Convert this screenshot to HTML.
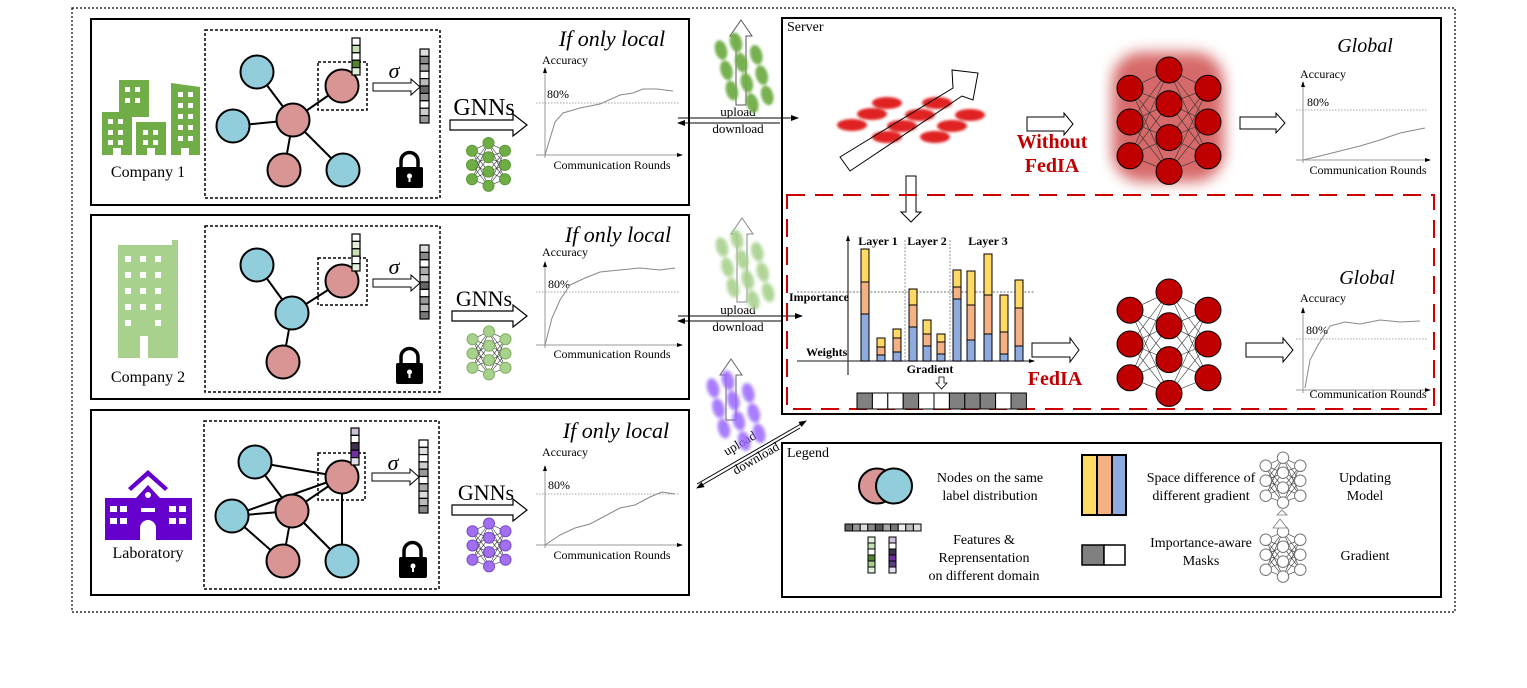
<!DOCTYPE html>
<html><head><meta charset="utf-8"><style>
html,body{margin:0;padding:0;background:#fff;}
svg{display:block;font-family:"Liberation Serif",serif;}
</style></head><body>
<svg width="1527" height="688" viewBox="0 0 1527 688" xmlns="http://www.w3.org/2000/svg">
<defs>
<g id="nn">
<path d="M5 12L20 5M5 12L20 18M5 12L20 31M5 12L20 44M5 25L20 5M5 25L20 18M5 25L20 31M5 25L20 44M5 38L20 5M5 38L20 18M5 38L20 31M5 38L20 44M35 12L20 5M35 12L20 18M35 12L20 31M35 12L20 44M35 25L20 5M35 25L20 18M35 25L20 31M35 25L20 44M35 38L20 5M35 38L20 18M35 38L20 31M35 38L20 44" stroke="#333" stroke-width="0.6" fill="none" vector-effect="non-scaling-stroke"/>
<circle cx="5" cy="12" r="5" vector-effect="non-scaling-stroke"/><circle cx="5" cy="25" r="5" vector-effect="non-scaling-stroke"/><circle cx="5" cy="38" r="5" vector-effect="non-scaling-stroke"/>
<circle cx="20" cy="5" r="5" vector-effect="non-scaling-stroke"/><circle cx="20" cy="18" r="5" vector-effect="non-scaling-stroke"/><circle cx="20" cy="31" r="5" vector-effect="non-scaling-stroke"/><circle cx="20" cy="44" r="5" vector-effect="non-scaling-stroke"/>
<circle cx="35" cy="12" r="5" vector-effect="non-scaling-stroke"/><circle cx="35" cy="25" r="5" vector-effect="non-scaling-stroke"/><circle cx="35" cy="38" r="5" vector-effect="non-scaling-stroke"/>
</g>
<g id="grad">
<g transform="rotate(-15)">
<ellipse cx="0" cy="0" rx="6" ry="10"/><ellipse cx="0" cy="21" rx="6" ry="10"/><ellipse cx="0" cy="42" rx="6" ry="10"/>
</g>
<g transform="translate(17,0) rotate(-15)">
<ellipse cx="0" cy="-8" rx="6" ry="10"/><ellipse cx="0" cy="13" rx="6" ry="10"/><ellipse cx="0" cy="34" rx="6" ry="10"/><ellipse cx="0" cy="55" rx="6" ry="10"/>
</g>
<g transform="translate(34,0) rotate(-15)">
<ellipse cx="0" cy="5" rx="6" ry="10"/><ellipse cx="0" cy="26" rx="6" ry="10"/><ellipse cx="0" cy="47" rx="6" ry="10"/>
</g>
</g>
<filter id="blur1"><feGaussianBlur stdDeviation="1.2"/></filter>
<filter id="blur8"><feGaussianBlur stdDeviation="7"/></filter>
<filter id="blur2"><feGaussianBlur stdDeviation="1.6"/></filter>
<marker id="ah" markerWidth="8" markerHeight="8" refX="7" refY="4" orient="auto" markerUnits="userSpaceOnUse"><path d="M0 1L8 4L0 7z" fill="#000"/></marker>
<marker id="ahs" markerWidth="6" markerHeight="6" refX="5" refY="3" orient="auto" markerUnits="userSpaceOnUse"><path d="M0 1L6 3L0 5z" fill="#000"/></marker>
</defs>

<rect x="72" y="8" width="1383" height="604" fill="none" stroke="#000" stroke-width="1.2" stroke-dasharray="2,2"/>

<!-- Company 1 -->
<rect x="91" y="19" width="598" height="186" fill="none" stroke="#000" stroke-width="2"/>
<rect x="205" y="30" width="235" height="168" fill="none" stroke="#000" stroke-width="1.5" stroke-dasharray="3,2"/>
<g fill="#70ad47">
<rect x="119" y="80" width="30" height="37"/>
<rect x="102" y="112" width="30" height="43"/>
<rect x="136" y="122" width="30" height="33"/>
<path d="M171 83L200 87L200 155L171 155z"/>
</g>
<g fill="#fff">
<rect x="125" y="87" width="5" height="5"/><rect x="135" y="87" width="5" height="5"/><rect x="125" y="98" width="5" height="5"/><rect x="135" y="98" width="5" height="5"/>
<rect x="108" y="119" width="5" height="5"/><rect x="118" y="119" width="5" height="5"/><rect x="108" y="130" width="5" height="5"/><rect x="118" y="130" width="5" height="5"/><rect x="108" y="140" width="5" height="5"/><rect x="118" y="140" width="5" height="5"/>
<rect x="143" y="130" width="5" height="5"/><rect x="153" y="130" width="5" height="5"/><rect x="143" y="140" width="5" height="5"/><rect x="153" y="140" width="5" height="5"/>
<rect x="178" y="92" width="5" height="5"/><rect x="188" y="92" width="5" height="5"/><rect x="178" y="103" width="5" height="5"/><rect x="188" y="103" width="5" height="5"/><rect x="178" y="114" width="5" height="5"/><rect x="188" y="114" width="5" height="5"/><rect x="178" y="125" width="5" height="5"/><rect x="188" y="125" width="5" height="5"/><rect x="178" y="136" width="5" height="5"/><rect x="188" y="136" width="5" height="5"/>
<rect x="113" y="148" width="8" height="7"/><rect x="147" y="148" width="8" height="7"/><rect x="181" y="148" width="8" height="7"/>
</g>
<text x="148" y="177" font-size="16" text-anchor="middle">Company 1</text>
<g stroke="#000" stroke-width="2">
<line x1="293" y1="120" x2="257" y2="72"/><line x1="293" y1="120" x2="233" y2="126"/><line x1="293" y1="120" x2="342" y2="86"/><line x1="293" y1="120" x2="284" y2="170"/><line x1="293" y1="120" x2="343" y2="170"/>
</g>
<g stroke="#000" stroke-width="2">
<circle cx="257" cy="72" r="16.5" fill="#92cddc"/><circle cx="233" cy="126" r="16.5" fill="#92cddc"/><circle cx="343" cy="170" r="16.5" fill="#92cddc"/>
<circle cx="293" cy="120" r="16.5" fill="#d99594"/><circle cx="342" cy="86" r="16.5" fill="#d99594"/><circle cx="284" cy="170" r="16.5" fill="#d99594"/>
</g>
<rect x="318" y="62" width="49" height="48" fill="none" stroke="#000" stroke-width="1.5" stroke-dasharray="3,2"/>
<g stroke="#000" stroke-width="1.2"><rect x="352" y="38" width="8" height="7.4" fill="#fff"/><rect x="352" y="45.4" width="8" height="7.4" fill="#c5e0b4"/><rect x="352" y="52.8" width="8" height="7.4" fill="#fff"/><rect x="352" y="60.2" width="8" height="7.4" fill="#548235"/><rect x="352" y="67.6" width="8" height="7.4" fill="#e2f0d9"/></g>
<text x="394" y="78" font-size="22" font-style="italic" text-anchor="middle">σ</text>
<path d="M373 83H411V79L420 87L411 95V91H373z" fill="#fff" stroke="#000" stroke-width="1"/>
<g stroke="#000" stroke-width="1.2"><rect x="420" y="49" width="9" height="7.4" fill="#ddd"/><rect x="420" y="56.4" width="9" height="7.4" fill="#888"/><rect x="420" y="63.8" width="9" height="7.4" fill="#aaa"/><rect x="420" y="71.2" width="9" height="7.4" fill="#fff"/><rect x="420" y="78.6" width="9" height="7.4" fill="#bbb"/><rect x="420" y="86" width="9" height="7.4" fill="#666"/><rect x="420" y="93.4" width="9" height="7.4" fill="#999"/><rect x="420" y="100.8" width="9" height="7.4" fill="#fff"/><rect x="420" y="108.2" width="9" height="7.4" fill="#ccc"/><rect x="420" y="115.6" width="9" height="7.4" fill="#999"/></g>
<g><path d="M401 168V161A8.5 8.5 0 0 1 418 161V168" fill="none" stroke="#000" stroke-width="3.5"/><rect x="396" y="167" width="27" height="21" rx="2" fill="#000"/><circle cx="409.5" cy="176" r="2.5" fill="#fff"/><rect x="408.5" y="176" width="2" height="6" fill="#fff"/></g>
<text x="484" y="115" font-size="24" text-anchor="middle">GNNs</text>
<path d="M450 120H513V114L527 125L513 136V130H450z" fill="#fff" stroke="#000" stroke-width="1.2"/>
<use href="#nn" transform="translate(466.5,137.5) scale(1.1)" fill="#70ad47" stroke="#5a9a35"/>
<text x="612" y="46" font-size="22" font-style="italic" text-anchor="middle">If only local</text>
<line x1="545" y1="158" x2="545" y2="68" stroke="#999" stroke-width="1" marker-end="url(#ahs)"/>
<line x1="536" y1="155" x2="682" y2="155" stroke="#999" stroke-width="1" marker-end="url(#ahs)"/>
<text x="565" y="64" font-size="12" text-anchor="middle">Accuracy</text>
<text x="547" y="98" font-size="12">80%</text>
<line x1="536" y1="103" x2="680" y2="103" stroke="#888" stroke-width="0.8" stroke-dasharray="1.5,1.5"/>
<text x="612" y="169" font-size="12" text-anchor="middle">Communication Rounds</text>
<polyline points="545,155 555,122 563,113 580,108 600,104 620,95 633,93 643,89 657,89 673,91" fill="none" stroke="#888" stroke-width="1"/>

<line x1="678" y1="118" x2="798" y2="118" stroke="#000" stroke-width="1" marker-end="url(#ah)"/>
<line x1="780" y1="123" x2="678" y2="123" stroke="#000" stroke-width="1" marker-end="url(#ah)"/>
<text x="738" y="116" font-size="13" text-anchor="middle">upload</text>
<text x="738" y="133" font-size="13" text-anchor="middle">download</text>
<path d="M736 105V36H730L741 20L752 36H746V105z" fill="#fff" stroke="#555" stroke-width="1"/>
<use href="#grad" transform="translate(721,50)" fill="#70ad47" filter="url(#blur1)" opacity="0.95"/>

<!-- Company 2 -->
<rect x="91" y="215" width="598" height="184" fill="none" stroke="#000" stroke-width="2"/>
<rect x="205" y="226" width="235" height="166" fill="none" stroke="#000" stroke-width="1.5" stroke-dasharray="3,2"/>
<path d="M118 245H172V240H178V358H118z" fill="#a9d18e"/>
<g fill="#fff">
<rect x="125" y="256" width="6" height="6"/><rect x="140" y="256" width="6" height="6"/><rect x="155" y="256" width="6" height="6"/>
<rect x="125" y="272" width="6" height="6"/><rect x="140" y="272" width="6" height="6"/><rect x="155" y="272" width="6" height="6"/>
<rect x="125" y="288" width="6" height="6"/><rect x="140" y="288" width="6" height="6"/><rect x="155" y="288" width="6" height="6"/>
<rect x="125" y="304" width="6" height="6"/><rect x="140" y="304" width="6" height="6"/><rect x="155" y="304" width="6" height="6"/>
<rect x="125" y="320" width="6" height="6"/><rect x="155" y="320" width="6" height="6"/>
<rect x="140" y="336" width="8" height="22"/>
</g>
<text x="148" y="382" font-size="16" text-anchor="middle">Company 2</text>
<g stroke="#000" stroke-width="2"><line x1="292" y1="313" x2="257" y2="265"/><line x1="292" y1="313" x2="342" y2="281"/><line x1="292" y1="313" x2="283" y2="362"/></g>
<g stroke="#000" stroke-width="2">
<circle cx="257" cy="265" r="16.5" fill="#92cddc"/><circle cx="292" cy="313" r="16.5" fill="#92cddc"/>
<circle cx="342" cy="281" r="16.5" fill="#d99594"/><circle cx="283" cy="362" r="16.5" fill="#d99594"/>
</g>
<rect x="318" y="258" width="49" height="47" fill="none" stroke="#000" stroke-width="1.5" stroke-dasharray="3,2"/>
<g stroke="#000" stroke-width="1.2"><rect x="352" y="234" width="8" height="7.4" fill="#fff"/><rect x="352" y="241.4" width="8" height="7.4" fill="#e2f0d9"/><rect x="352" y="248.8" width="8" height="7.4" fill="#c5e0b4"/><rect x="352" y="256.2" width="8" height="7.4" fill="#fff"/><rect x="352" y="263.6" width="8" height="7.4" fill="#e2f0d9"/></g>
<text x="394" y="274" font-size="22" font-style="italic" text-anchor="middle">σ</text>
<path d="M373 279H411V275L420 283L411 291V287H373z" fill="#fff" stroke="#000" stroke-width="1"/>
<g stroke="#000" stroke-width="1.2"><rect x="420" y="245" width="9" height="7.4" fill="#ddd"/><rect x="420" y="252.4" width="9" height="7.4" fill="#888"/><rect x="420" y="259.8" width="9" height="7.4" fill="#fff"/><rect x="420" y="267.2" width="9" height="7.4" fill="#aaa"/><rect x="420" y="274.6" width="9" height="7.4" fill="#ccc"/><rect x="420" y="282" width="9" height="7.4" fill="#666"/><rect x="420" y="289.4" width="9" height="7.4" fill="#fff"/><rect x="420" y="296.8" width="9" height="7.4" fill="#999"/><rect x="420" y="304.2" width="9" height="7.4" fill="#bbb"/><rect x="420" y="311.6" width="9" height="7.4" fill="#777"/></g>
<g><path d="M401 364V357A8.5 8.5 0 0 1 418 357V364" fill="none" stroke="#000" stroke-width="3.5"/><rect x="396" y="363" width="27" height="21" rx="2" fill="#000"/><circle cx="409.5" cy="372" r="2.5" fill="#fff"/><rect x="408.5" y="372" width="2" height="6" fill="#fff"/></g>
<text x="484" y="306" font-size="22" text-anchor="middle">GNNs</text>
<path d="M452 311H513V305L527 316L513 327V321H452z" fill="#fff" stroke="#000" stroke-width="1.2"/>
<use href="#nn" transform="translate(467,326) scale(1.1)" fill="#a9d18e" stroke="#7faf60"/>
<text x="618" y="242" font-size="22" font-style="italic" text-anchor="middle">If only local</text>
<line x1="545" y1="348" x2="545" y2="262" stroke="#999" stroke-width="1" marker-end="url(#ahs)"/>
<line x1="536" y1="345" x2="682" y2="345" stroke="#999" stroke-width="1" marker-end="url(#ahs)"/>
<text x="565" y="256" font-size="12" text-anchor="middle">Accuracy</text>
<text x="548" y="288" font-size="12">80%</text>
<line x1="536" y1="292" x2="680" y2="292" stroke="#888" stroke-width="0.8" stroke-dasharray="1.5,1.5"/>
<text x="612" y="358" font-size="12" text-anchor="middle">Communication Rounds</text>
<polyline points="545,345 552,318 560,300 570,285 585,278 600,272 620,270 640,268 660,270 675,268" fill="none" stroke="#888" stroke-width="1"/>
<line x1="678" y1="316" x2="802" y2="316" stroke="#000" stroke-width="1" marker-end="url(#ah)"/>
<line x1="782" y1="321" x2="678" y2="321" stroke="#000" stroke-width="1" marker-end="url(#ah)"/>
<text x="738" y="314" font-size="13" text-anchor="middle">upload</text>
<text x="738" y="331" font-size="13" text-anchor="middle">download</text>
<path d="M737 302V234H731L742 218L753 234H747V302z" fill="#fff" stroke="#888" stroke-width="1"/>
<use href="#grad" transform="translate(722,247)" fill="#a9d18e" filter="url(#blur2)" opacity="0.9"/>

<!-- Laboratory -->
<rect x="91" y="410" width="598" height="185" fill="none" stroke="#000" stroke-width="2"/>
<rect x="204" y="421" width="235" height="168" fill="none" stroke="#000" stroke-width="1.5" stroke-dasharray="3,2"/>
<g fill="#6600cc">
<path d="M128 488L148 470L168 488L165 491L148 476L131 491z"/>
<path d="M136 498L148 485L160 498V505H136z"/>
<rect x="105" y="498" width="87" height="42"/>
</g>
<g fill="#fff">
<circle cx="148" cy="495" r="3"/>
<rect x="110" y="506" width="7" height="6"/><rect x="120" y="506" width="7" height="6"/><rect x="169" y="506" width="7" height="6"/><rect x="179" y="506" width="7" height="6"/>
<rect x="110" y="518" width="7" height="6"/><rect x="120" y="518" width="7" height="6"/><rect x="169" y="518" width="7" height="6"/><rect x="179" y="518" width="7" height="6"/>
<rect x="141" y="508" width="14" height="4"/>
<path d="M140 540V528A8 8 0 0 1 156 528V540z"/>
</g>
<text x="148" y="558" font-size="16" text-anchor="middle">Laboratory</text>
<g stroke="#000" stroke-width="2">
<line x1="255" y1="462" x2="342" y2="477"/><line x1="255" y1="462" x2="292" y2="511"/><line x1="232" y1="516" x2="342" y2="477"/><line x1="232" y1="516" x2="292" y2="511"/><line x1="292" y1="511" x2="342" y2="477"/><line x1="292" y1="511" x2="283" y2="561"/><line x1="292" y1="511" x2="342" y2="561"/><line x1="232" y1="516" x2="283" y2="561"/><line x1="342" y1="477" x2="342" y2="561"/>
</g>
<g stroke="#000" stroke-width="2">
<circle cx="255" cy="462" r="16.5" fill="#92cddc"/><circle cx="232" cy="516" r="16.5" fill="#92cddc"/><circle cx="342" cy="561" r="16.5" fill="#92cddc"/>
<circle cx="342" cy="477" r="16.5" fill="#d99594"/><circle cx="292" cy="511" r="16.5" fill="#d99594"/><circle cx="283" cy="561" r="16.5" fill="#d99594"/>
</g>
<rect x="318" y="453" width="47" height="47" fill="none" stroke="#000" stroke-width="1.5" stroke-dasharray="3,2"/>
<g stroke="#000" stroke-width="1.2"><rect x="351" y="428" width="8" height="7.4" fill="#ccc0da"/><rect x="351" y="435.4" width="8" height="7.4" fill="#fff"/><rect x="351" y="442.8" width="8" height="7.4" fill="#3f3151"/><rect x="351" y="450.2" width="8" height="7.4" fill="#7030a0"/><rect x="351" y="457.6" width="8" height="7.4" fill="#e4dfec"/></g>
<text x="393" y="470" font-size="22" font-style="italic" text-anchor="middle">σ</text>
<path d="M372 473H410V469L419 477L410 485V481H372z" fill="#fff" stroke="#000" stroke-width="1"/>
<g stroke="#000" stroke-width="1.2"><rect x="419" y="440" width="9" height="7.3" fill="#fff"/><rect x="419" y="447.3" width="9" height="7.3" fill="#ddd"/><rect x="419" y="454.6" width="9" height="7.3" fill="#fff"/><rect x="419" y="461.9" width="9" height="7.3" fill="#ccc"/><rect x="419" y="469.2" width="9" height="7.3" fill="#999"/><rect x="419" y="476.5" width="9" height="7.3" fill="#fff"/><rect x="419" y="483.8" width="9" height="7.3" fill="#aaa"/><rect x="419" y="491.1" width="9" height="7.3" fill="#ddd"/><rect x="419" y="498.4" width="9" height="7.3" fill="#bbb"/><rect x="419" y="505.7" width="9" height="7.3" fill="#888"/></g>
<g><path d="M404 558V551A8.5 8.5 0 0 1 421 551V558" fill="none" stroke="#000" stroke-width="3.5"/><rect x="399" y="557" width="28" height="21" rx="2" fill="#000"/><circle cx="413" cy="566" r="2.5" fill="#fff"/><rect x="412" y="566" width="2" height="6" fill="#fff"/></g>
<text x="486" y="500" font-size="22" text-anchor="middle">GNNs</text>
<path d="M452 505H513V499L527 510L513 521V515H452z" fill="#fff" stroke="#000" stroke-width="1.2"/>
<use href="#nn" transform="translate(467,518) scale(1.1)" fill="#a070f0" stroke="#7a4ac8"/>
<text x="616" y="438" font-size="22" font-style="italic" text-anchor="middle">If only local</text>
<line x1="545" y1="548" x2="545" y2="466" stroke="#999" stroke-width="1" marker-end="url(#ahs)"/>
<line x1="536" y1="545" x2="682" y2="545" stroke="#999" stroke-width="1" marker-end="url(#ahs)"/>
<text x="565" y="456" font-size="12" text-anchor="middle">Accuracy</text>
<text x="548" y="489" font-size="12">80%</text>
<line x1="536" y1="494" x2="680" y2="494" stroke="#888" stroke-width="0.8" stroke-dasharray="1.5,1.5"/>
<text x="612" y="559" font-size="12" text-anchor="middle">Communication Rounds</text>
<polyline points="545,545 560,535 575,528 590,524 605,516 620,508 635,505 650,497 662,492 675,494" fill="none" stroke="#888" stroke-width="1"/>
<line x1="697" y1="484" x2="806" y2="421" stroke="#000" stroke-width="1" marker-end="url(#ah)"/>
<line x1="800" y1="428" x2="697" y2="488" stroke="#000" stroke-width="1" marker-end="url(#ah)"/>
<text x="742" y="447" font-size="13" text-anchor="middle" transform="rotate(-30 742 447)">upload</text>
<text x="758" y="462" font-size="13" text-anchor="middle" transform="rotate(-30 758 462)">download</text>
<path d="M726 420V375H720L731 359L742 375H736V420z" fill="#fff" stroke="#666" stroke-width="1"/>
<use href="#grad" transform="translate(713,388)" fill="#9966ff" filter="url(#blur2)" opacity="0.85"/>

<!-- Server -->
<rect x="782" y="18" width="659" height="396" fill="none" stroke="#000" stroke-width="2"/>
<text x="787" y="31" font-size="14">Server</text>
<g fill="#e02020" filter="url(#blur1)">
<ellipse cx="887" cy="103" rx="15" ry="6"/><ellipse cx="937" cy="103" rx="15" ry="6"/>
<ellipse cx="872" cy="114" rx="15" ry="6"/><ellipse cx="920" cy="115" rx="15" ry="6"/><ellipse cx="970" cy="115" rx="15" ry="6"/>
<ellipse cx="852" cy="125" rx="15" ry="6"/><ellipse cx="902" cy="126" rx="15" ry="6"/><ellipse cx="952" cy="126" rx="15" ry="6"/>
<ellipse cx="887" cy="137" rx="15" ry="6"/><ellipse cx="935" cy="137" rx="15" ry="6"/>
</g>
<path d="M840 157L953 88L952 70L978 73L973 100L962 96L850 171z" fill="none" stroke="#000" stroke-width="1"/>
<path d="M1027 117H1064V113L1073 124L1064 135V131H1027z" fill="#fff" stroke="#000" stroke-width="1"/>
<text x="1052" y="148" font-size="20" font-weight="bold" fill="#c00000" text-anchor="middle">Without</text>
<text x="1052" y="172" font-size="20" font-weight="bold" fill="#c00000" text-anchor="middle">FedIA</text>
<rect x="1112" y="52" width="112" height="130" rx="30" fill="#d05050" opacity="0.85" filter="url(#blur8)"/>
<use href="#nn" transform="translate(1117,57) scale(2.6)" fill="#c00000" stroke="#000"/>
<path d="M1240 117H1276V113L1285 123L1276 133V129H1240z" fill="#fff" stroke="#000" stroke-width="1"/>
<text x="1365" y="52" font-size="20" font-style="italic" text-anchor="middle">Global</text>
<line x1="1303" y1="163" x2="1303" y2="82" stroke="#999" stroke-width="1" marker-end="url(#ahs)"/>
<line x1="1296" y1="160" x2="1430" y2="160" stroke="#999" stroke-width="1" marker-end="url(#ahs)"/>
<text x="1323" y="78" font-size="12" text-anchor="middle">Accuracy</text>
<text x="1307" y="106" font-size="12">80%</text>
<line x1="1296" y1="110" x2="1428" y2="110" stroke="#888" stroke-width="0.8" stroke-dasharray="1.5,1.5"/>
<text x="1368" y="174" font-size="12" text-anchor="middle">Communication Rounds</text>
<polyline points="1303,160 1320,156 1340,151 1360,146 1380,140 1400,133 1425,128" fill="none" stroke="#888" stroke-width="1"/>
<path d="M906 176H916V212H921L911 222L901 212H906z" fill="#fff" stroke="#000" stroke-width="1"/>

<rect x="787" y="195" width="647" height="214" fill="none" stroke="#cc0000" stroke-width="2" stroke-dasharray="18,10"/>
<line x1="848" y1="375" x2="848" y2="236" stroke="#000" stroke-width="1" marker-end="url(#ahs)"/>
<line x1="797" y1="361" x2="1034" y2="361" stroke="#444" stroke-width="1.2" marker-end="url(#ahs)"/>
<line x1="797" y1="292" x2="1035" y2="292" stroke="#444" stroke-width="0.8" stroke-dasharray="2,1.5"/>
<line x1="905" y1="240" x2="905" y2="361" stroke="#666" stroke-width="0.7" stroke-dasharray="2,1.5"/>
<line x1="950" y1="240" x2="950" y2="361" stroke="#666" stroke-width="0.7" stroke-dasharray="2,1.5"/>
<g font-size="12" font-weight="bold" text-anchor="middle"><text x="878" y="245">Layer 1</text><text x="927" y="245">Layer 2</text><text x="988" y="245">Layer 3</text></g>
<text x="789" y="301" font-size="12" font-weight="bold">Importance</text>
<text x="806" y="356" font-size="12" font-weight="bold">Weights</text>
<text x="930" y="373" font-size="12" font-weight="bold" text-anchor="middle">Gradient</text>
<path d="M939 377H944V383H947L941.5 389L936 383H939z" fill="#fff" stroke="#000" stroke-width="0.8"/>
<g stroke="#000" stroke-width="1">
<rect x="861" y="249" width="8" height="33" fill="#ffd966"/><rect x="861" y="282" width="8" height="32" fill="#f4b183"/><rect x="861" y="314" width="8" height="47" fill="#8faadc"/>
<rect x="877" y="338" width="8" height="9" fill="#ffd966"/><rect x="877" y="347" width="8" height="8" fill="#f4b183"/><rect x="877" y="355" width="8" height="6" fill="#8faadc"/>
<rect x="893" y="329" width="8" height="9" fill="#ffd966"/><rect x="893" y="338" width="8" height="14" fill="#f4b183"/><rect x="893" y="352" width="8" height="9" fill="#8faadc"/>
<rect x="909" y="289" width="8" height="16" fill="#ffd966"/><rect x="909" y="305" width="8" height="22" fill="#f4b183"/><rect x="909" y="327" width="8" height="34" fill="#8faadc"/>
<rect x="923" y="320" width="8" height="14" fill="#ffd966"/><rect x="923" y="334" width="8" height="12" fill="#f4b183"/><rect x="923" y="346" width="8" height="15" fill="#8faadc"/>
<rect x="937" y="334" width="8" height="8" fill="#ffd966"/><rect x="937" y="342" width="8" height="12" fill="#f4b183"/><rect x="937" y="354" width="8" height="7" fill="#8faadc"/>
<rect x="953" y="270" width="8" height="17" fill="#ffd966"/><rect x="953" y="287" width="8" height="12" fill="#f4b183"/><rect x="953" y="299" width="8" height="62" fill="#8faadc"/>
<rect x="967" y="271" width="8" height="34" fill="#ffd966"/><rect x="967" y="305" width="8" height="35" fill="#f4b183"/><rect x="967" y="340" width="8" height="21" fill="#8faadc"/>
<rect x="984" y="254" width="8" height="41" fill="#ffd966"/><rect x="984" y="295" width="8" height="39" fill="#f4b183"/><rect x="984" y="334" width="8" height="27" fill="#8faadc"/>
<rect x="1000" y="295" width="8" height="37" fill="#ffd966"/><rect x="1000" y="332" width="8" height="22" fill="#f4b183"/><rect x="1000" y="354" width="8" height="7" fill="#8faadc"/>
<rect x="1015" y="280" width="8" height="28" fill="#ffd966"/><rect x="1015" y="308" width="8" height="38" fill="#f4b183"/><rect x="1015" y="346" width="8" height="15" fill="#8faadc"/>
</g>
<g stroke="#000" stroke-width="1">
<rect x="857" y="393" width="15.4" height="16" fill="#808080"/><rect x="872.4" y="393" width="15.4" height="16" fill="#fff"/><rect x="887.8" y="393" width="15.4" height="16" fill="#fff"/><rect x="903.2" y="393" width="15.4" height="16" fill="#808080"/><rect x="918.6" y="393" width="15.4" height="16" fill="#fff"/><rect x="934" y="393" width="15.4" height="16" fill="#fff"/><rect x="949.4" y="393" width="15.4" height="16" fill="#808080"/><rect x="964.8" y="393" width="15.4" height="16" fill="#808080"/><rect x="980.2" y="393" width="15.4" height="16" fill="#808080"/><rect x="995.6" y="393" width="15.4" height="16" fill="#fff"/><rect x="1011" y="393" width="15.4" height="16" fill="#808080"/>
</g>
<path d="M1032 343H1070V338L1079 350L1070 362V357H1032z" fill="#fff" stroke="#000" stroke-width="1"/>
<text x="1055" y="385" font-size="20" font-weight="bold" fill="#c00000" text-anchor="middle">FedIA</text>
<use href="#nn" transform="translate(1117,279) scale(2.6)" fill="#c00000" stroke="#000"/>
<path d="M1246 343H1283V338L1293 350L1283 362V357H1246z" fill="#fff" stroke="#000" stroke-width="1"/>
<text x="1367" y="284" font-size="20" font-style="italic" text-anchor="middle">Global</text>
<line x1="1303" y1="393" x2="1303" y2="308" stroke="#999" stroke-width="1" marker-end="url(#ahs)"/>
<line x1="1296" y1="390" x2="1430" y2="390" stroke="#999" stroke-width="1" marker-end="url(#ahs)"/>
<text x="1323" y="302" font-size="12" text-anchor="middle">Accuracy</text>
<text x="1306" y="334" font-size="12">80%</text>
<line x1="1296" y1="339" x2="1428" y2="339" stroke="#888" stroke-width="0.8" stroke-dasharray="1.5,1.5"/>
<text x="1368" y="398" font-size="12" text-anchor="middle">Communication Rounds</text>
<polyline points="1305,388 1310,360 1318,345 1330,326 1345,322 1360,324 1380,320 1400,322 1420,321" fill="none" stroke="#888" stroke-width="1"/>

<!-- Legend -->
<rect x="782" y="443" width="659" height="154" fill="none" stroke="#000" stroke-width="2"/>
<text x="787" y="457" font-size="14">Legend</text>
<ellipse cx="877" cy="486" rx="18" ry="17.5" fill="#d99594" stroke="#000" stroke-width="2"/>
<ellipse cx="894" cy="486" rx="18" ry="17.5" fill="#92cddc" stroke="#000" stroke-width="2"/>
<g font-size="14" text-anchor="middle">
<text x="990" y="482">Nodes on the same</text><text x="990" y="500">label distribution</text>
<text x="1201" y="482">Space difference of</text><text x="1201" y="500">different gradient</text>
<text x="1365" y="482">Updating</text><text x="1365" y="500">Model</text>
<text x="984" y="544">Features &amp;</text><text x="984" y="562">Reprensentation</text><text x="984" y="580">on different domain</text>
<text x="1201" y="547">Importance-aware</text><text x="1201" y="565">Masks</text>
<text x="1365" y="560">Gradient</text>
</g>
<g stroke="#000" stroke-width="2"><rect x="1082" y="455" width="15" height="60" fill="#ffd966"/><rect x="1097" y="455" width="15" height="60" fill="#f4b183"/><rect x="1112" y="455" width="14" height="60" fill="#8faadc"/></g>
<use href="#nn" transform="translate(1260,452) scale(1.15)" fill="#fff" stroke="#777"/>
<path d="M1277 515L1282 510L1287 515z" fill="#fff" stroke="#777" stroke-width="0.8"/>
<use href="#nn" transform="translate(1260,526) scale(1.15)" fill="#fff" stroke="#777"/>
<path d="M1273 528L1280 519L1287 528z" fill="#fff" stroke="#777" stroke-width="0.8"/>
<g stroke="#000" stroke-width="1"><rect x="845" y="524" width="7.6" height="7" fill="#666"/><rect x="852.6" y="524" width="7.6" height="7" fill="#999"/><rect x="860.2" y="524" width="7.6" height="7" fill="#ddd"/><rect x="867.8" y="524" width="7.6" height="7" fill="#888"/><rect x="875.4" y="524" width="7.6" height="7" fill="#555"/><rect x="883" y="524" width="7.6" height="7" fill="#aaa"/><rect x="890.6" y="524" width="7.6" height="7" fill="#777"/><rect x="898.2" y="524" width="7.6" height="7" fill="#eee"/><rect x="905.8" y="524" width="7.6" height="7" fill="#bbb"/><rect x="913.4" y="524" width="7.6" height="7" fill="#ddd"/></g>
<g stroke="#000" stroke-width="1"><rect x="868" y="537" width="7" height="6" fill="#e2f0d9"/><rect x="868" y="543" width="7" height="6" fill="#c5e0b4"/><rect x="868" y="549" width="7" height="6" fill="#fff"/><rect x="868" y="555" width="7" height="6" fill="#548235"/><rect x="868" y="561" width="7" height="6" fill="#a9d18e"/><rect x="868" y="567" width="7" height="6" fill="#e2f0d9"/>
<rect x="889" y="537" width="7" height="6" fill="#ccc0da"/><rect x="889" y="543" width="7" height="6" fill="#fff"/><rect x="889" y="549" width="7" height="6" fill="#3f3151"/><rect x="889" y="555" width="7" height="6" fill="#7030a0"/><rect x="889" y="561" width="7" height="6" fill="#5a4080"/><rect x="889" y="567" width="7" height="6" fill="#e4dfec"/></g>
<g stroke="#000" stroke-width="1.5"><rect x="1082" y="545" width="22" height="20" fill="#808080"/><rect x="1104" y="545" width="21" height="20" fill="#fff"/></g>
</svg>
</body></html>
